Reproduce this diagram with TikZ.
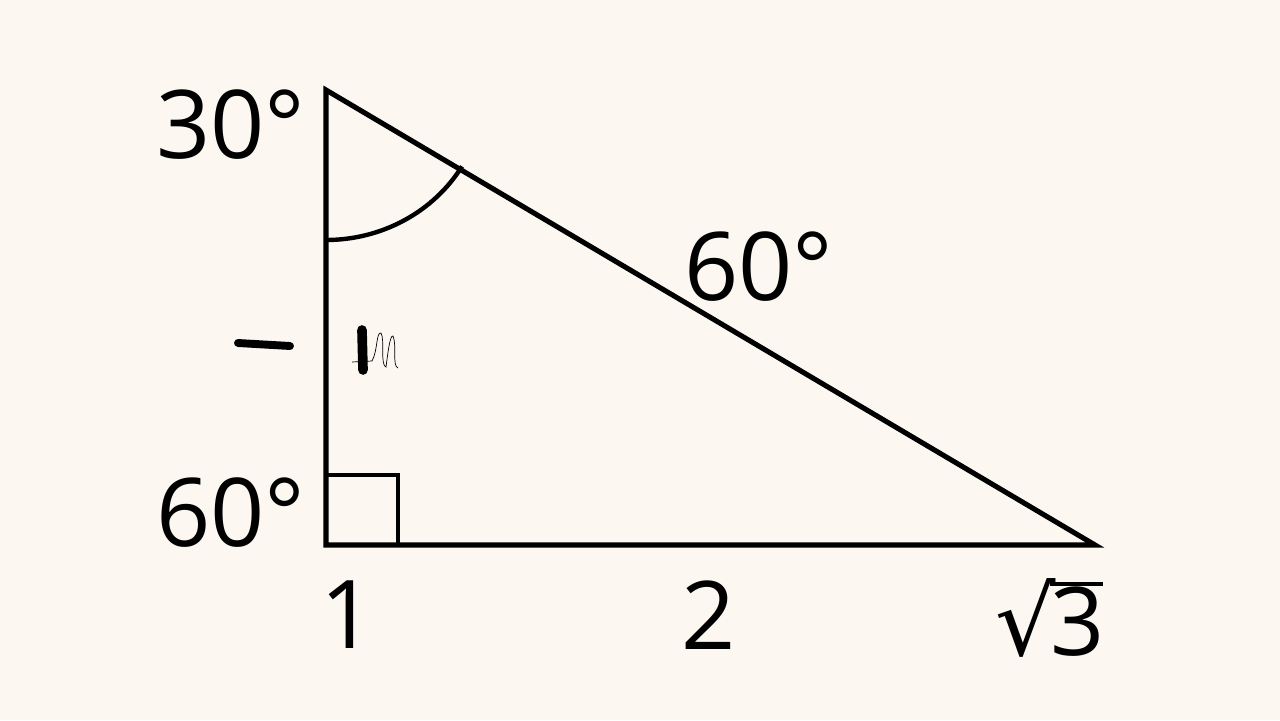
\documentclass[tikz,border=0pt]{standalone}
\usepackage{fontspec}
\setmainfont{Open Sans}
\newfontfamily\symfont{DejaVu Sans}
\usetikzlibrary{calc}
\definecolor{paper}{RGB}{252,248,241}
\tikzset{
  edge/.style={line width=2.9pt, line cap=round, line join=miter},
  lbl/.style={font=\fontsize{54}{60}\selectfont, inner sep=0pt}
}
\begin{document}
\begin{tikzpicture}[x=0.02cm, y=0.02cm]
    		%fondo
    		\fill[paper] (0,0) rectangle (1280,-720);
    		\useasboundingbox (0,0) rectangle (1280,-720);
    		%vertices
    		\coordinate (A) at (326,-90);
    		\coordinate (B) at (326,-545);
    		\coordinate (C) at (1095,-545);
  		%%%% TRIANGULO
  		\draw [edge] (A) -- (B) -- (C) -- cycle;
  		% arco en A
  		\draw [line width=2.5pt] ($(A)+(0,-150)$) arc[start angle=-90, end angle=-30.6, x radius=158, y radius=150];
  		% angulo recto
  		\draw [line width=2.6pt] ($(B)+(0,70)$) -- ++(72,0) -- ++(0,-70);
  		% marcas
  		\draw [line width=4.5pt, line cap=round] (238,-343) -- (290,-346);
  		\draw [line width=5.5pt, line cap=round] (362,-330) -- (363,-370);
  		\draw [line width=0.4pt] (352,-362) -- (372,-361) .. controls (378,-350) and (376,-332) .. (381,-333) .. controls (385,-340) and (380,-365) .. (386,-367) .. controls (388,-352) and (390,-335) .. (393,-336) .. controls (397,-345) and (392,-366) .. (398,-368);
  		
  		\node[lbl] (a30) at (231,-125) {30°};
  		\node[lbl] (h60) at (759,-267) {60°};
  		\node[lbl] (b60) at (231,-513) {60°};
  		\node[lbl] (n1) at (348,-615) {1};
  		\node[lbl] (n2) at (709,-615) {2};
  		\node[lbl] (r3) at (1050,-618) {{\symfont √}\kern-0.06em\rlap{\raisebox{0.73em}{\rule{0.56em}{0.05em}}}3};
		\end{tikzpicture}
\end{document}
